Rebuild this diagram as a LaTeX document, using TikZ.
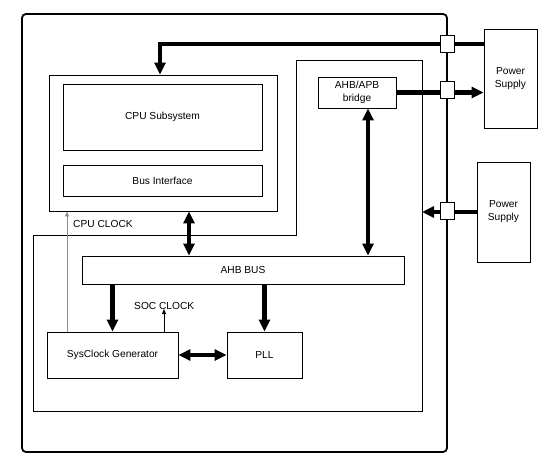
\documentclass[tikz,border=0pt]{standalone}
\usepackage{fontspec}
\setmainfont{Liberation Sans}
\usetikzlibrary{arrows.meta,calc}
\begin{document}
\begin{tikzpicture}[x=1pt,y=-1pt,
  box/.style={draw,line width=0.9pt,inner sep=0pt,align=center,font=\fontsize{10.2}{13}\selectfont},
  sq/.style={draw,fill=white,line width=0.9pt,inner sep=0pt,minimum width=14pt,minimum height=17pt},
  bus/.style={line width=4.3pt,-{Triangle[length=12pt,width=11pt]}},
  bus2/.style={line width=4.3pt,{Triangle[length=12pt,width=11pt]}-{Triangle[length=12pt,width=11pt]}},
  clk/.style={line width=0.8pt,-{Triangle[length=5pt,width=4pt]}},
  lbl/.style={inner sep=0pt,anchor=west,font=\fontsize{10.2}{13}\selectfont}]
\useasboundingbox (0,0) rectangle (545,470);
% outer chip border
\draw[line width=1.8pt,rounded corners=4pt] (22,14) rectangle (447,452);
% SoC region
\draw[line width=0.9pt] (33,235) -- (296,235) -- (296,60) -- (422,60) -- (422,411) -- (33,411) -- cycle;
\coordinate (socR) at (422,211);
% blocks
\node[box,minimum width=228pt,minimum height=136pt] (cpu) at (163,143) {};
\node[box,minimum width=199pt,minimum height=66pt] (cpusub) at (162.5,117) {CPU Subsystem};
\node[box,minimum width=199pt,minimum height=31pt] (busif) at (162.5,180.5) {Bus Interface};
\node[box,minimum width=78pt,minimum height=31pt] (bridge) at (357,92.5) {AHB/APB\\bridge};
\node[box,minimum width=53pt,minimum height=99pt] (ps1) at (510.5,78.5) {Power\\Supply};
\node[box,minimum width=53pt,minimum height=100pt] (ps2) at (503.5,212) {Power\\Supply};
\node[box,minimum width=322pt,minimum height=28pt] (ahb) at (243,270) {AHB BUS};
\node[box,minimum width=131pt,minimum height=46pt] (sysclk) at (112.5,355) {SysClock Generator};
\node[box,minimum width=75pt,minimum height=46pt] (pll) at (264.5,355) {PLL};
% helper coordinates
\coordinate (t1) at (160,44);
\coordinate (bx) at (368,0);
\coordinate (cx) at (189,0);
\coordinate (cc) at (67,0);
\coordinate (sc) at (164,309);
% thick connectors
\draw[bus] (ps1.west |- t1) -- (t1) -- (t1 |- cpu.north);
\draw[bus] (bridge.east) -- (bridge.east -| ps1.west);
\draw[bus] (ps2.west) -- (ps2.west -| socR);
\draw[bus2] (bx |- bridge.south) -- (bx |- ahb.north);
\draw[bus2] (cx |- cpu.south) -- (cx |- ahb.north);
\draw[bus] (ahb.south -| sysclk.north) -- (sysclk.north);
\draw[bus] (ahb.south -| pll.north) -- (pll.north);
\draw[bus2] (sysclk.east) -- (pll.west);
% clock lines
\draw[clk,draw=black!45,fill=black] (cc |- sysclk.north) -- (cc |- cpu.south);
\draw[clk] (sc |- sysclk.north) -- (sc);
\node[lbl] (cpuclk) at (73,223.5) {CPU CLOCK};
\node[lbl] (socclk) at (134,305.5) {SOC CLOCK};
% squares on chip border
\node[sq] (sq1) at (447,44) {};
\node[sq] (sq2) at (447,90) {};
\node[sq] (sq3) at (447,211) {};
\end{tikzpicture}
\end{document}
